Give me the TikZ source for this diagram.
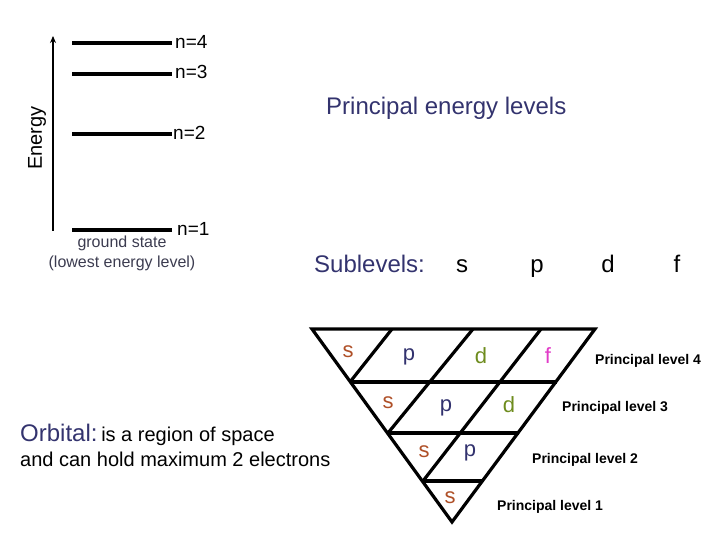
\documentclass[tikz,border=0pt]{standalone}
\usepackage{fontspec}
\setmainfont{Liberation Sans}
\usetikzlibrary{arrows.meta}
\definecolor{navy}{RGB}{51,51,110}
\definecolor{sbrown}{RGB}{175,80,40}
\definecolor{pblue}{RGB}{50,50,110}
\definecolor{dgreen}{RGB}{110,140,30}
\definecolor{fmag}{RGB}{225,60,200}
\definecolor{gstate}{RGB}{60,60,80}
\tikzset{
  lvl/.style={line width=3.2pt},
  tri/.style={line width=3.2pt, line join=miter},
  nlab/.style={anchor=west, inner sep=0pt, font=\fontsize{19}{19}\selectfont},
  txt/.style={inner sep=0pt},
  plab/.style={anchor=west, inner sep=0pt, font=\fontsize{14}{14}\selectfont\bfseries},
  sub/.style={inner sep=0pt, anchor=base, font=\fontsize{22}{22}\selectfont},
  head/.style={inner sep=0pt, anchor=base, font=\fontsize{24}{24}\selectfont},
}
\begin{document}
\begin{tikzpicture}[x=1pt,y=-1pt]
\useasboundingbox (0,0) rectangle (720,540);
% energy axis
\coordinate (ab) at (53,231);
\coordinate (at) at (53,36);
\draw[line width=1.8pt,-{Stealth[length=7pt,width=6pt]}] (ab) -- (at);
\node[txt, rotate=90, font=\fontsize{20}{20}\selectfont] (energy) at (37,138) {Energy};
% levels
\coordinate (l4a) at (72,43);  \coordinate (l4b) at (172,43);
\coordinate (l3a) at (72,74);  \coordinate (l3b) at (172,74);
\coordinate (l2a) at (72,134); \coordinate (l2b) at (172,134);
\coordinate (l1a) at (72,230); \coordinate (l1b) at (172,230);
\draw[lvl] (l4a) -- (l4b);
\draw[lvl] (l3a) -- (l3b);
\draw[lvl] (l2a) -- (l2b);
\draw[lvl] (l1a) -- (l1b);
\node[nlab] (n4) at (175,42) {n=4};
\node[nlab] (n3) at (175,72) {n=3};
\node[nlab] (n2) at (173,133) {n=2};
\node[nlab] (n1) at (177,229) {n=1};
\node[txt, text=gstate, font=\fontsize{16}{16}\selectfont] (gs) at (122,243) {ground state};
\node[txt, text=gstate, font=\fontsize{16}{16}\selectfont] (low) at (122,263) {(lowest energy level)};
% titles
\node[txt, text=navy, font=\fontsize{24}{24}\selectfont, anchor=base west] (pel) at (326,115) {Principal energy levels};
\node[txt, text=navy, font=\fontsize{24}{24}\selectfont, anchor=base west] (subl) at (314,272) {Sublevels:};
\node[head] (ss) at (462,272) {s};
\node[head] (sp) at (537,272) {p};
\node[head] (sd) at (608,272) {d};
\node[head] (sf) at (677,272) {f};
% orbital
\node[txt, anchor=base west] (orb) at (20,441) {\textcolor{navy}{\fontsize{24}{24}\selectfont Orbital:} \fontsize{20}{20}\selectfont is a region of space};
\node[txt, anchor=base west, font=\fontsize{20}{20}\selectfont] (orb2) at (20,466) {and can hold maximum 2 electrons};
% triangle
\coordinate (tl) at (312,329);
\coordinate (tr) at (595,329);
\coordinate (ap) at (452,522);
\draw[tri] (tl) -- (tr) -- (ap) -- cycle;
\coordinate (d1a) at (392,329); \coordinate (d1b) at (350,382);
\coordinate (d2a) at (473,329); \coordinate (d2b) at (388,433);
\coordinate (d3a) at (541,329); \coordinate (d3b) at (423,481);
\draw[tri] (d1a) -- (d1b);
\draw[tri] (d2a) -- (d2b);
\draw[tri] (d3a) -- (d3b);
\coordinate (h1a) at (350,382); \coordinate (h1b) at (557,382);
\coordinate (h2a) at (388,433); \coordinate (h2b) at (519,433);
\coordinate (h3a) at (423,481); \coordinate (h3b) at (482,481);
\draw[tri] (h1a) -- (h1b);
\draw[tri] (h2a) -- (h2b);
\draw[tri] (h3a) -- (h3b);
% sublevel letters
\node[sub, text=sbrown] (s4) at (348,357) {s};
\node[sub, text=pblue] (p4) at (409,360) {p};
\node[sub, text=dgreen] (d4) at (481,363) {d};
\node[sub, text=fmag] (f4) at (548,363) {f};
\node[sub, text=sbrown] (s3) at (388,408) {s};
\node[sub, text=pblue] (p3) at (446,411) {p};
\node[sub, text=dgreen] (d3) at (509,412) {d};
\node[sub, text=sbrown] (s2) at (424,457) {s};
\node[sub, text=pblue] (p2) at (470,456) {p};
\node[sub, text=sbrown] (s1) at (450,503) {s};
% principal level labels
\node[plab] (pl4) at (595,361) {Principal level 4};
\node[plab] (pl3) at (562,408) {Principal level 3};
\node[plab] (pl2) at (532,460) {Principal level 2};
\node[plab] (pl1) at (497,507) {Principal level 1};
\end{tikzpicture}
\end{document}
